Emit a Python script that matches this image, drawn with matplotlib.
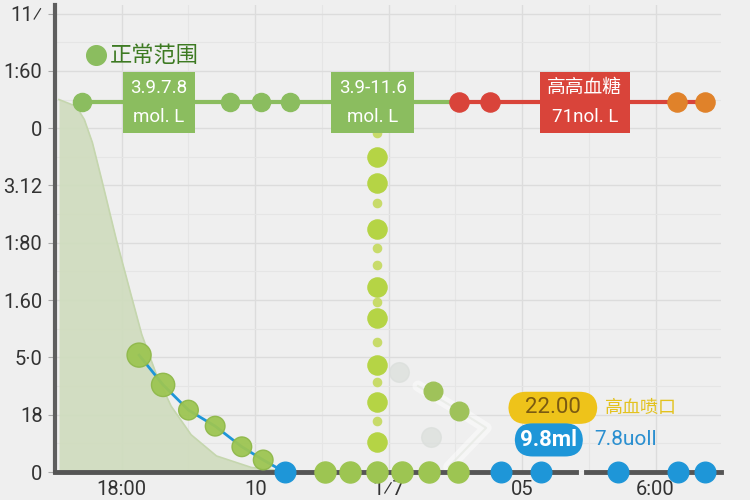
import matplotlib
matplotlib.use("Agg")
import matplotlib.pyplot as plt
import numpy as np

plt.rcParams['font.family'] = ['Roboto', 'Noto Sans CJK SC', 'DejaVu Sans']

# ---- data ----
x_ticks = [1, 2, 3, 4, 5]
x_labels = ["18:00", "10", "1⁄7", "05", "6:00"]
y_ticks = [0, 1, 2, 3, 4, 5, 6, 7, 8]
y_labels = ["0", "18", "5·0", "1.60", "1:80", "3.12", "0", "1:60", "11⁄"]

fill_x = [0.53, 0.66, 0.72, 0.78, 0.85, 0.96, 1.07, 1.15, 1.26, 1.37, 1.52, 1.71, 1.97, 2.27]
fill_y = [6.50, 6.38, 6.15, 5.75, 5.10, 4.05, 3.09, 2.40, 1.70, 1.15, 0.65, 0.28, 0.08, 0.0]

top_level = 6.45
top_green_x = [0.70, 1.81, 2.04, 2.26]
top_red_x = [3.53, 3.76]
top_orange_x = [5.16, 5.37]

drop_x = [1.13, 1.31, 1.50, 1.70, 1.90, 2.06]
drop_y = [2.04, 1.52, 1.08, 0.80, 0.44, 0.21]
drop_end = (2.22, 0.0)

base_green_x = [2.52, 2.71, 2.91, 3.10, 3.30, 3.52]
base_blue_x = [3.84, 4.14, 4.72, 5.17, 5.37]

vert_x = 2.91
vert_big_y = [5.50, 5.05, 4.24, 3.23, 2.69, 1.87, 1.22, 0.52]
vert_small_y = [5.92, 4.70, 3.91, 3.62, 2.97, 2.27, 1.57, 0.89]

arc_green = [(3.33, 1.41), (3.53, 1.07)]
arc_grey = [(3.08, 1.75), (3.32, 0.61)]
arc_path_x = [3.22, 3.52, 3.73, 3.45]
arc_path_y = [1.50, 1.08, 0.77, 0.09]

boxes = [
    (1.28, "3.9.7.8\nmol. L", "#8bbd5f"),
    (2.88, "3.9-11.6\nmol. L", "#8bbd5f"),
    (4.47, "高高血糖\n71nol. L", "#d9443a"),
]

# ---- figure ----
fig = plt.figure(figsize=(7.5, 5), dpi=100)
fig.patch.set_facecolor("#efefef")
ax = fig.add_axes([55/750, 28/500, (721-55)/750, (495-28)/500])
ax.set_facecolor("#efefef")
ax.set_xlim(0.5, 5.49)
ax.set_ylim(0, 8.15)

ax.set_xticks(x_ticks)
ax.set_xticklabels(x_labels, fontsize=14.5, color="#333333")
ax.set_yticks(y_ticks)
ax.set_yticklabels(y_labels, fontsize=14.5, color="#333333")
ax.set_xticks(np.arange(0.5, 5.5, 0.5), minor=True)
ax.set_yticks(np.arange(0, 8.2, 0.5), minor=True)
ax.grid(True, which="major", color="#dcdcdc", linewidth=1.0)
ax.grid(True, which="minor", color="#e5e5e5", linewidth=0.8)
ax.tick_params(axis="both", which="both", length=0, pad=6)
ax.tick_params(axis="y", which="major", length=5, color="#aaaaaa", pad=4)
ax.set_axisbelow(True)
for s in ["top", "right", "bottom"]:
    ax.spines[s].set_visible(False)
ax.spines["left"].set_color("#5e5e5e")
ax.spines["left"].set_linewidth(3)

# bottom baseline with a gap
ax.plot([0.5, 4.40], [0, 0], color="#555555", lw=3.5, zorder=3, clip_on=False)
ax.plot([4.48, 5.49], [0, 0], color="#555555", lw=3.5, zorder=3, clip_on=False)

# green area
ax.fill_between(fill_x, fill_y, 0, color="#cfdcbd", alpha=0.9, zorder=1, linewidth=0)
ax.plot(fill_x, fill_y, color="#c5d6ae", lw=1.2, zorder=1)

# top line
ax.plot([top_green_x[0], top_red_x[0]], [top_level, top_level], color="#8bbd5f", lw=3, zorder=3)
ax.plot([top_red_x[0], top_orange_x[-1]], [top_level, top_level], color="#d9443a", lw=3, zorder=3)
ax.scatter(top_green_x, [top_level]*len(top_green_x), s=170, color="#8bbd5f", zorder=4)
ax.scatter(top_red_x, [top_level]*len(top_red_x), s=190, color="#d9443a", zorder=4)
ax.scatter(top_orange_x, [top_level]*len(top_orange_x), s=190, color="#e0822a", zorder=4)

for bx, txt, col in boxes:
    ax.text(bx, top_level, txt, ha="center", va="center", fontsize=13.5, color="white",
            linespacing=1.75, zorder=5,
            bbox=dict(boxstyle="square,pad=0.4", facecolor=col, edgecolor="none"))

# legend
ax.scatter([0.81], [7.28], s=200, color="#8bbd5f", zorder=5)
ax.text(0.91, 7.28, "正常范围", fontsize=16, color="#3d7a22", va="center", ha="left",
        family=["Noto Sans CJK SC", "DejaVu Sans"], fontweight="medium")

# faint arc
ax.plot(arc_path_x, arc_path_y, color="white", lw=8, alpha=0.45, zorder=2, solid_capstyle="round")
ax.plot(arc_path_x, arc_path_y, color="#e2e6df", lw=1.5, alpha=0.6, zorder=2)
ax.scatter([p[0] for p in arc_grey], [p[1] for p in arc_grey], s=200, color="#dadedb", alpha=0.7, zorder=3)
ax.scatter([p[0] for p in arc_green], [p[1] for p in arc_green], s=180, color="#9fc25a", zorder=4)

# falling blue line with green dots
ax.plot(drop_x + [drop_end[0]], drop_y + [drop_end[1]], color="#1e96d8", lw=2, zorder=3)
sizes = [300, 280, 200, 200, 200, 200]
ax.scatter(drop_x, drop_y, s=sizes, color="#9dc552", edgecolor="#8fb84a", alpha=0.95, zorder=4)

# vertical dotted column
ax.scatter([vert_x]*len(vert_small_y), vert_small_y, s=35, color="#c8db6a", zorder=4)
ax.scatter([vert_x]*len(vert_big_y), vert_big_y, s=190, color="#b5d445", zorder=4)

# baseline dots
ax.scatter(base_green_x, [0]*len(base_green_x), s=230, color="#9dc552", zorder=5, clip_on=False)
ax.scatter([drop_end[0]] + base_blue_x, [0]*(len(base_blue_x)+1), s=220, color="#1e96d8",
           zorder=5, clip_on=False)

# annotations
ax.text(4.23, 1.12, "  22.00  ", fontsize=16, color="#7a5a12", ha="center", va="center", zorder=6,
        bbox=dict(boxstyle="round,pad=0.25,rounding_size=0.8", facecolor="#eec31a", edgecolor="none"))
ax.text(4.62, 1.12, "高血喷口", fontsize=13, color="#e3c21e", ha="left", va="center", zorder=6,
        family=["Noto Sans CJK SC", "DejaVu Sans"])
ax.text(4.20, 0.56, "9.8ml", fontsize=16, color="white", ha="center", va="center", zorder=6,
        fontweight="bold",
        bbox=dict(boxstyle="round,pad=0.25,rounding_size=0.8", facecolor="#1e96d8", edgecolor="none"))
ax.text(4.54, 0.56, "7.8uoll", fontsize=15, color="#2a8fd0", ha="left", va="center", zorder=6)

fig.savefig("out.png", dpi=100, facecolor=fig.get_facecolor())
